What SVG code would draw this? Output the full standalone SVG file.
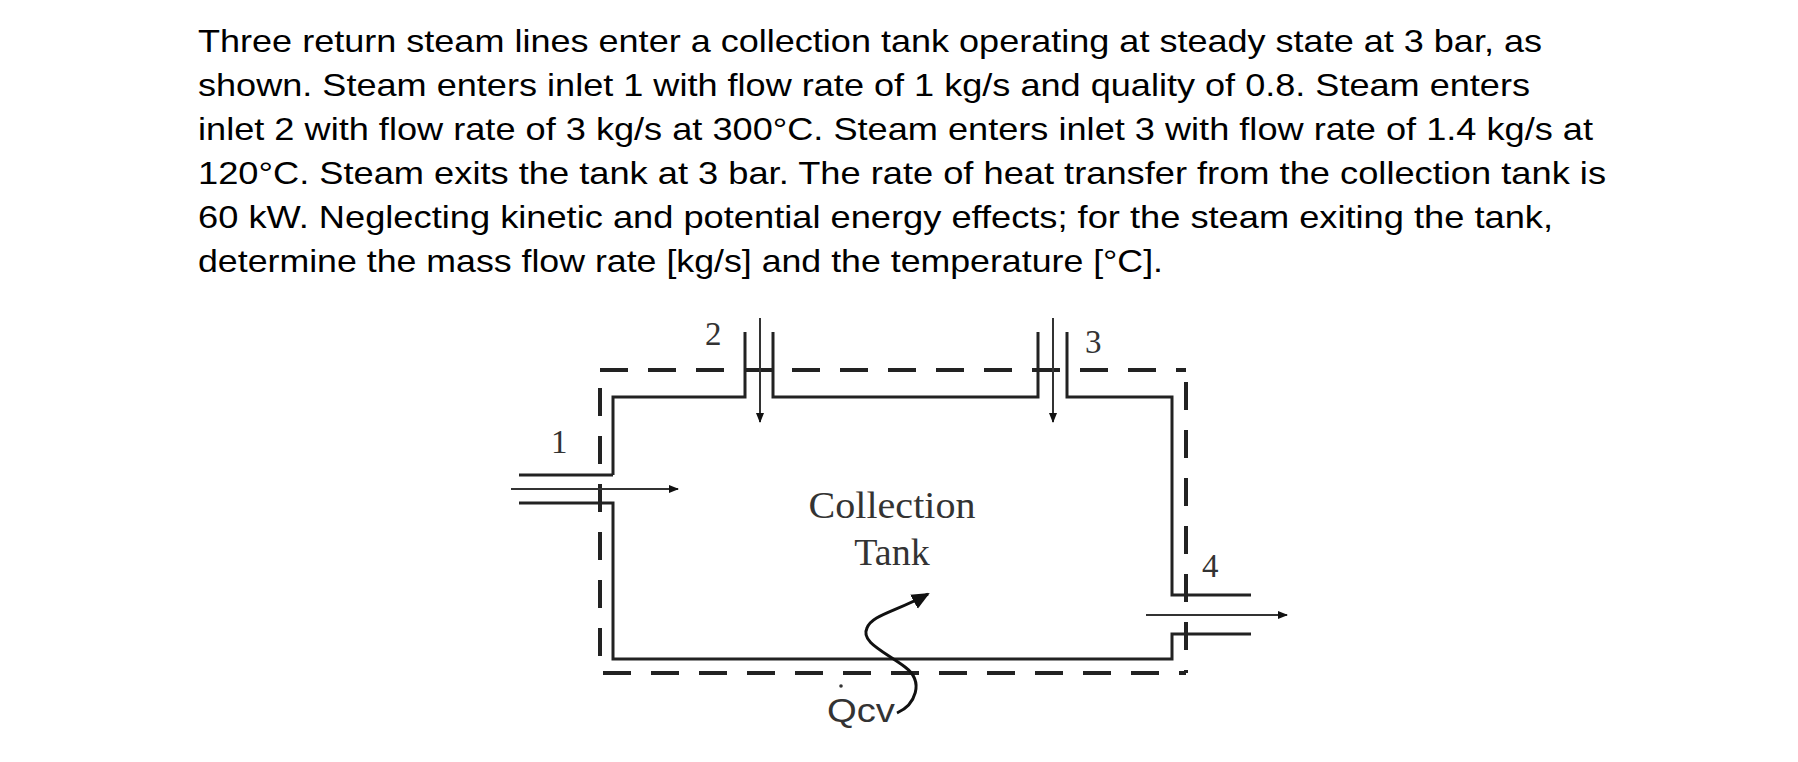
<svg xmlns="http://www.w3.org/2000/svg" width="1798" height="762" viewBox="0 0 1798 762">
<style>
.q{font-family:"Liberation Sans",Arial,sans-serif;font-size:32px;fill:#000}
.s{font-family:"Liberation Serif","Times New Roman",serif;fill:#333}
.w{fill:none;stroke:#222;stroke-width:3}
.d{fill:none;stroke:#222;stroke-width:4;stroke-dasharray:28 20}
.p{fill:none;stroke:#333;stroke-width:2}
</style>
<defs>
<marker id="a" markerWidth="10" markerHeight="10" refX="9" refY="5" orient="auto" markerUnits="userSpaceOnUse"><path d="M0,1 L10,5 L0,9 Z" fill="#111"/></marker>
<marker id="b" markerWidth="20" markerHeight="20" refX="16" refY="8" orient="auto" markerUnits="userSpaceOnUse"><path d="M0,0 L18,8 L0,16 Z" fill="#111"/></marker>
</defs>
<g id="problem" class="q">
<text x="198" y="52" textLength="1344" lengthAdjust="spacingAndGlyphs">Three return steam lines enter a collection tank operating at steady state at 3 bar, as</text>
<text x="198" y="96" textLength="1332" lengthAdjust="spacingAndGlyphs">shown. Steam enters inlet 1 with flow rate of 1 kg/s and quality of 0.8. Steam enters</text>
<text x="198" y="140" textLength="1395" lengthAdjust="spacingAndGlyphs">inlet 2 with flow rate of 3 kg/s at 300°C. Steam enters inlet 3 with flow rate of 1.4 kg/s at</text>
<text x="198" y="184" textLength="1408" lengthAdjust="spacingAndGlyphs">120°C. Steam exits the tank at 3 bar. The rate of heat transfer from the collection tank is</text>
<text x="198" y="228" textLength="1355" lengthAdjust="spacingAndGlyphs">60 kW. Neglecting kinetic and potential energy effects; for the steam exiting the tank,</text>
<text x="198" y="272" textLength="965" lengthAdjust="spacingAndGlyphs">determine the mass flow rate [kg/s] and the temperature [°C].</text>
</g>
<g id="control-volume">
<path class="d" d="M600,370 H1186 M600,388 V673 H1186 M1186,382 V673"/>
</g>
<g id="tank">
<path class="w" d="M613,475 V397 H745 V332 M773,332 V397 H1038 V332 M1067,332 V397 H1172 V595 H1251 M1251,634 H1172 V659 H613 V503 H519 M519,475 H613"/>
<text class="s" x="892" y="518" font-size="38" text-anchor="middle" textLength="167" lengthAdjust="spacingAndGlyphs">Collection</text>
<text class="s" x="892" y="565" font-size="38" text-anchor="middle">Tank</text>
</g>
<g id="labels" class="s" font-size="33">
<text x="551" y="453">1</text>
<text x="705" y="345">2</text>
<text x="1085" y="353">3</text>
<text x="1202" y="577">4</text>
</g>
<g id="connectors">
<path class="p" marker-end="url(#a)" d="M511,489 H678"/>
<path class="p" marker-end="url(#a)" d="M760,318 V422"/>
<path class="p" marker-end="url(#a)" d="M1053,318 V422"/>
<path class="p" marker-end="url(#a)" d="M1146,615 H1287"/>
<path fill="none" stroke="#111" stroke-width="3" marker-end="url(#b)" d="M897,713 C915,705 925,682 905,667 C885,652 860,642 867,628 C872,615 895,612 928,594"/>
</g>
<g id="qcv">
<text x="827" y="722" font-family="Liberation Sans,Arial,sans-serif" font-size="34" fill="#333" textLength="68" lengthAdjust="spacingAndGlyphs">Qcv</text>
<circle cx="841" cy="686" r="1.8" fill="#333"/>
</g>
</svg>
